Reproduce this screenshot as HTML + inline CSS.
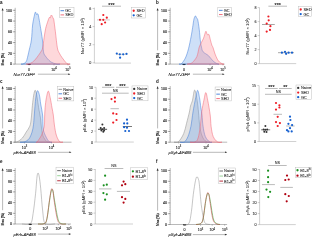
<!DOCTYPE html>
<html><head><meta charset="utf-8"><style>
html,body{margin:0;padding:0;background:#fff;width:312px;height:237px;overflow:hidden}
svg{display:block;will-change:transform}
text{font-family:"Liberation Sans", sans-serif}
</style></head><body>
<svg width="312" height="237" viewBox="0 0 312 237">
<text x="0.1" y="3.7" font-size="4.5" text-anchor="start" font-weight="bold" font-style="normal" fill="#111">a</text>
<line x1="15.2" y1="7.8" x2="15.2" y2="64.1" stroke="#333" stroke-width="0.35"/>
<line x1="12.8" y1="64.1" x2="15.2" y2="64.1" stroke="#333" stroke-width="0.4"/>
<text x="12.0" y="65.4" font-size="3.6" text-anchor="end" font-weight="normal" font-style="normal" fill="#1e1e1e" stroke="#1e1e1e" stroke-width="0.12">0</text>
<line x1="12.8" y1="53.34" x2="15.2" y2="53.34" stroke="#333" stroke-width="0.4"/>
<text x="12.0" y="54.64" font-size="3.6" text-anchor="end" font-weight="normal" font-style="normal" fill="#1e1e1e" stroke="#1e1e1e" stroke-width="0.12">20</text>
<line x1="12.8" y1="42.58" x2="15.2" y2="42.58" stroke="#333" stroke-width="0.4"/>
<text x="12.0" y="43.88" font-size="3.6" text-anchor="end" font-weight="normal" font-style="normal" fill="#1e1e1e" stroke="#1e1e1e" stroke-width="0.12">40</text>
<line x1="12.8" y1="31.82" x2="15.2" y2="31.82" stroke="#333" stroke-width="0.4"/>
<text x="12.0" y="33.12" font-size="3.6" text-anchor="end" font-weight="normal" font-style="normal" fill="#1e1e1e" stroke="#1e1e1e" stroke-width="0.12">60</text>
<line x1="12.8" y1="21.06" x2="15.2" y2="21.06" stroke="#333" stroke-width="0.4"/>
<text x="12.0" y="22.36" font-size="3.6" text-anchor="end" font-weight="normal" font-style="normal" fill="#1e1e1e" stroke="#1e1e1e" stroke-width="0.12">80</text>
<line x1="12.8" y1="10.3" x2="15.2" y2="10.3" stroke="#333" stroke-width="0.4"/>
<text x="12.0" y="11.6" font-size="3.6" text-anchor="end" font-weight="normal" font-style="normal" fill="#1e1e1e" stroke="#1e1e1e" stroke-width="0.12">100</text>
<line x1="14.4" y1="64.1" x2="15.2" y2="64.1" stroke="#333" stroke-width="0.25"/>
<line x1="14.4" y1="61.95" x2="15.2" y2="61.95" stroke="#333" stroke-width="0.25"/>
<line x1="14.4" y1="59.8" x2="15.2" y2="59.8" stroke="#333" stroke-width="0.25"/>
<line x1="14.4" y1="57.64" x2="15.2" y2="57.64" stroke="#333" stroke-width="0.25"/>
<line x1="14.4" y1="55.49" x2="15.2" y2="55.49" stroke="#333" stroke-width="0.25"/>
<line x1="14.4" y1="53.34" x2="15.2" y2="53.34" stroke="#333" stroke-width="0.25"/>
<line x1="14.4" y1="51.19" x2="15.2" y2="51.19" stroke="#333" stroke-width="0.25"/>
<line x1="14.4" y1="49.04" x2="15.2" y2="49.04" stroke="#333" stroke-width="0.25"/>
<line x1="14.4" y1="46.88" x2="15.2" y2="46.88" stroke="#333" stroke-width="0.25"/>
<line x1="14.4" y1="44.73" x2="15.2" y2="44.73" stroke="#333" stroke-width="0.25"/>
<line x1="14.4" y1="42.58" x2="15.2" y2="42.58" stroke="#333" stroke-width="0.25"/>
<line x1="14.4" y1="40.43" x2="15.2" y2="40.43" stroke="#333" stroke-width="0.25"/>
<line x1="14.4" y1="38.28" x2="15.2" y2="38.28" stroke="#333" stroke-width="0.25"/>
<line x1="14.4" y1="36.12" x2="15.2" y2="36.12" stroke="#333" stroke-width="0.25"/>
<line x1="14.4" y1="33.97" x2="15.2" y2="33.97" stroke="#333" stroke-width="0.25"/>
<line x1="14.4" y1="31.82" x2="15.2" y2="31.82" stroke="#333" stroke-width="0.25"/>
<line x1="14.4" y1="29.67" x2="15.2" y2="29.67" stroke="#333" stroke-width="0.25"/>
<line x1="14.4" y1="27.52" x2="15.2" y2="27.52" stroke="#333" stroke-width="0.25"/>
<line x1="14.4" y1="25.36" x2="15.2" y2="25.36" stroke="#333" stroke-width="0.25"/>
<line x1="14.4" y1="23.21" x2="15.2" y2="23.21" stroke="#333" stroke-width="0.25"/>
<line x1="14.4" y1="21.06" x2="15.2" y2="21.06" stroke="#333" stroke-width="0.25"/>
<line x1="14.4" y1="18.91" x2="15.2" y2="18.91" stroke="#333" stroke-width="0.25"/>
<line x1="14.4" y1="16.76" x2="15.2" y2="16.76" stroke="#333" stroke-width="0.25"/>
<line x1="14.4" y1="14.6" x2="15.2" y2="14.6" stroke="#333" stroke-width="0.25"/>
<line x1="14.4" y1="12.45" x2="15.2" y2="12.45" stroke="#333" stroke-width="0.25"/>
<line x1="14.4" y1="10.3" x2="15.2" y2="10.3" stroke="#333" stroke-width="0.25"/>
<line x1="15.2" y1="64.1" x2="70.4" y2="64.1" stroke="#333" stroke-width="0.35"/>
<rect x="27.6" y="63.9" width="3" height="1.1" fill="#111"/>
<line x1="29.1" y1="64.1" x2="29.1" y2="65.3" stroke="#333" stroke-width="0.35"/>
<text x="29.1" y="70.5" font-size="3.6" text-anchor="middle" font-weight="normal" font-style="normal" fill="#1e1e1e" stroke="#1e1e1e" stroke-width="0.1">0</text>
<line x1="54" y1="64.1" x2="54" y2="65.3" stroke="#333" stroke-width="0.35"/>
<text x="54" y="70.5" font-size="3.6" text-anchor="middle" font-weight="normal" font-style="normal" fill="#1e1e1e" stroke="#1e1e1e" stroke-width="0.1">10<tspan font-size="2.6" dy="-1.3">4</tspan></text>
<line x1="68" y1="64.1" x2="68" y2="65.3" stroke="#333" stroke-width="0.35"/>
<text x="68" y="70.5" font-size="3.6" text-anchor="middle" font-weight="normal" font-style="normal" fill="#1e1e1e" stroke="#1e1e1e" stroke-width="0.1">10<tspan font-size="2.6" dy="-1.3">5</tspan></text>
<text x="3.8" y="65.6" font-size="3.4" text-anchor="start" font-weight="normal" font-style="normal" fill="#1e1e1e" stroke="#1e1e1e" stroke-width="0.14" transform="rotate(-90 3.8 65.6)">Max (%)</text>
<line x1="2.6" y1="50.3" x2="2.6" y2="9.3" stroke="#333" stroke-width="0.35"/>
<path d="M1.6,10.5 L2.6,7.9 L3.6,10.5 Z" fill="#333"/>
<text x="13.4" y="75.8" font-size="4.2" text-anchor="start" font-weight="normal" font-style="italic" fill="#1e1e1e" stroke="#1e1e1e" stroke-width="0.08">Nur77-GFP</text>
<line x1="37.9" y1="74.2" x2="69.9" y2="74.2" stroke="#333" stroke-width="0.35"/>
<path d="M68.2,73.4 L70.4,74.2 L68.2,75 Z" fill="#333"/>
<path d="M21.00,64.10 C21.33,64.08 22.23,64.30 23.00,64.00 C23.77,63.70 24.93,63.07 25.60,62.30 C26.27,61.53 26.40,61.43 27.00,59.40 C27.60,57.37 28.47,53.33 29.20,50.10 C29.93,46.87 30.83,44.18 31.40,40.00 C31.97,35.82 32.08,29.17 32.60,25.00 C33.12,20.83 34.03,17.15 34.50,15.00 C34.97,12.85 35.05,12.18 35.40,12.10 C35.75,12.02 36.25,14.22 36.60,14.50 C36.95,14.78 37.18,13.55 37.50,13.80 C37.82,14.05 37.92,13.22 38.50,16.00 C39.08,18.78 40.30,26.17 41.00,30.50 C41.70,34.83 42.28,38.45 42.70,42.00 C43.12,45.55 43.08,49.50 43.50,51.80 C43.92,54.10 44.07,54.18 45.20,55.80 C46.33,57.42 48.45,60.13 50.30,61.50 C52.15,62.87 54.68,63.57 56.30,64.00 C57.92,64.43 59.38,64.08 60.00,64.10 Z" fill="rgb(92,152,232)" fill-opacity="0.3" stroke="#3d7ad8" stroke-width="0.5" stroke-linejoin="round"/>
<path d="M26.00,64.10 C26.42,64.08 27.45,64.30 28.50,64.00 C29.55,63.70 31.10,63.13 32.30,62.30 C33.50,61.47 34.32,60.68 35.70,59.00 C37.08,57.32 39.45,54.03 40.60,52.20 C41.75,50.37 42.02,50.40 42.60,48.00 C43.18,45.60 43.60,41.02 44.10,37.80 C44.60,34.58 44.97,31.48 45.60,28.70 C46.23,25.92 47.28,22.97 47.90,21.10 C48.52,19.23 48.92,18.02 49.30,17.50 C49.68,16.98 49.85,18.42 50.20,18.00 C50.55,17.58 50.90,14.92 51.40,15.00 C51.90,15.08 52.80,17.70 53.20,18.50 C53.60,19.30 53.43,17.58 53.80,19.80 C54.17,22.02 54.80,27.10 55.40,31.80 C56.00,36.50 56.73,44.43 57.40,48.00 C58.07,51.57 58.63,51.62 59.40,53.20 C60.17,54.78 60.73,55.77 62.00,57.50 C63.27,59.23 65.67,62.50 67.00,63.60 C68.33,64.70 69.50,64.02 70.00,64.10 Z" fill="rgb(252,125,135)" fill-opacity="0.3" stroke="#f06070" stroke-width="0.5" stroke-linejoin="round"/>
<rect x="59.3" y="7.6" width="14.7" height="10.0" fill="#fff" stroke="#b8b8b8" stroke-width="0.45"/>
<line x1="60.5" y1="10.7" x2="64.1" y2="10.7" stroke="#3d7ad8" stroke-width="0.9"/>
<text x="65.2" y="12.1" font-size="4.0" text-anchor="start" font-weight="normal" font-style="normal" fill="#1e1e1e" stroke="#1e1e1e" stroke-width="0.06">GC</text>
<line x1="60.5" y1="14.9" x2="64.1" y2="14.9" stroke="#f06070" stroke-width="0.9"/>
<text x="65.2" y="16.3" font-size="4.0" text-anchor="start" font-weight="normal" font-style="normal" fill="#1e1e1e" stroke="#1e1e1e" stroke-width="0.06">SED</text>
<line x1="94.4" y1="7.6" x2="94.4" y2="63.1" stroke="#999" stroke-width="0.45"/>
<line x1="94.4" y1="63.1" x2="131" y2="63.1" stroke="#999" stroke-width="0.45"/>
<line x1="92.6" y1="8.5" x2="94.4" y2="8.5" stroke="#777" stroke-width="0.35"/>
<text x="91.4" y="10.1" font-size="3.7" text-anchor="end" font-weight="normal" font-style="normal" fill="#1e1e1e" stroke="#1e1e1e" stroke-width="0.06">6</text>
<line x1="92.6" y1="26.6" x2="94.4" y2="26.6" stroke="#777" stroke-width="0.35"/>
<text x="91.4" y="28.2" font-size="3.7" text-anchor="end" font-weight="normal" font-style="normal" fill="#1e1e1e" stroke="#1e1e1e" stroke-width="0.06">4</text>
<line x1="92.6" y1="44.7" x2="94.4" y2="44.7" stroke="#777" stroke-width="0.35"/>
<text x="91.4" y="46.3" font-size="3.7" text-anchor="end" font-weight="normal" font-style="normal" fill="#1e1e1e" stroke="#1e1e1e" stroke-width="0.06">2</text>
<line x1="92.6" y1="62.8" x2="94.4" y2="62.8" stroke="#777" stroke-width="0.35"/>
<text x="91.4" y="64.4" font-size="3.7" text-anchor="end" font-weight="normal" font-style="normal" fill="#1e1e1e" stroke="#1e1e1e" stroke-width="0.06">0</text>
<text x="84.2" y="36.15" font-size="4.25" text-anchor="middle" font-weight="normal" font-style="normal" fill="#1e1e1e" stroke="#1e1e1e" stroke-width="0.02" transform="rotate(-90 84.2 36.15)">Nur77 (gMFI × 10<tspan font-size="2.7" dy="-1.4">3</tspan><tspan dy="1.4">)</tspan></text>
<line x1="102" y1="6.2" x2="121" y2="6.2" stroke="#777" stroke-width="0.5"/>
<text x="111.5" y="6.7" font-size="5.4" text-anchor="middle" font-weight="normal" font-style="normal" fill="#1e1e1e" stroke="#1e1e1e" stroke-width="0.15">***</text>
<line x1="97" y1="19.9" x2="109.9" y2="19.9" stroke="#c0c0c0" stroke-width="0.8"/>
<circle cx="103.3" cy="15" r="1.1" fill="#ee1c25"/>
<circle cx="106.8" cy="17.7" r="1.1" fill="#ee1c25"/>
<circle cx="100" cy="19.8" r="1.1" fill="#ee1c25"/>
<circle cx="103.3" cy="19.8" r="1.1" fill="#ee1c25"/>
<circle cx="105.1" cy="22.5" r="1.1" fill="#ee1c25"/>
<circle cx="101.7" cy="24.2" r="1.1" fill="#ee1c25"/>
<line x1="116" y1="54.3" x2="127.7" y2="54.3" stroke="#c0c0c0" stroke-width="0.8"/>
<circle cx="116.8" cy="53.5" r="1.1" fill="#1560d0"/>
<circle cx="119.8" cy="54.3" r="1.1" fill="#1560d0"/>
<circle cx="123.2" cy="54.3" r="1.1" fill="#1560d0"/>
<circle cx="126.5" cy="53.8" r="1.1" fill="#1560d0"/>
<circle cx="120.1" cy="57.7" r="1.1" fill="#1560d0"/>
<rect x="131.5" y="7.5" width="13.8" height="10.5" fill="#fff" stroke="#b8b8b8" stroke-width="0.45"/>
<circle cx="133.7" cy="10.75" r="1.15" fill="#ee1c25"/>
<text x="136.4" y="12.25" font-size="4.0" text-anchor="start" font-weight="normal" font-style="normal" fill="#1e1e1e" stroke="#1e1e1e" stroke-width="0.06">SED</text>
<circle cx="133.7" cy="15.35" r="1.15" fill="#1560d0"/>
<text x="136.4" y="16.85" font-size="4.0" text-anchor="start" font-weight="normal" font-style="normal" fill="#1e1e1e" stroke="#1e1e1e" stroke-width="0.06">GC</text>
<text x="155.9" y="3.7" font-size="4.5" text-anchor="start" font-weight="bold" font-style="normal" fill="#111">b</text>
<line x1="170.2" y1="7.8" x2="170.2" y2="64.1" stroke="#333" stroke-width="0.35"/>
<line x1="167.8" y1="64.1" x2="170.2" y2="64.1" stroke="#333" stroke-width="0.4"/>
<text x="167.0" y="65.4" font-size="3.6" text-anchor="end" font-weight="normal" font-style="normal" fill="#1e1e1e" stroke="#1e1e1e" stroke-width="0.12">0</text>
<line x1="167.8" y1="53.34" x2="170.2" y2="53.34" stroke="#333" stroke-width="0.4"/>
<text x="167.0" y="54.64" font-size="3.6" text-anchor="end" font-weight="normal" font-style="normal" fill="#1e1e1e" stroke="#1e1e1e" stroke-width="0.12">20</text>
<line x1="167.8" y1="42.58" x2="170.2" y2="42.58" stroke="#333" stroke-width="0.4"/>
<text x="167.0" y="43.88" font-size="3.6" text-anchor="end" font-weight="normal" font-style="normal" fill="#1e1e1e" stroke="#1e1e1e" stroke-width="0.12">40</text>
<line x1="167.8" y1="31.82" x2="170.2" y2="31.82" stroke="#333" stroke-width="0.4"/>
<text x="167.0" y="33.12" font-size="3.6" text-anchor="end" font-weight="normal" font-style="normal" fill="#1e1e1e" stroke="#1e1e1e" stroke-width="0.12">60</text>
<line x1="167.8" y1="21.06" x2="170.2" y2="21.06" stroke="#333" stroke-width="0.4"/>
<text x="167.0" y="22.36" font-size="3.6" text-anchor="end" font-weight="normal" font-style="normal" fill="#1e1e1e" stroke="#1e1e1e" stroke-width="0.12">80</text>
<line x1="167.8" y1="10.3" x2="170.2" y2="10.3" stroke="#333" stroke-width="0.4"/>
<text x="167.0" y="11.6" font-size="3.6" text-anchor="end" font-weight="normal" font-style="normal" fill="#1e1e1e" stroke="#1e1e1e" stroke-width="0.12">100</text>
<line x1="169.4" y1="64.1" x2="170.2" y2="64.1" stroke="#333" stroke-width="0.25"/>
<line x1="169.4" y1="61.95" x2="170.2" y2="61.95" stroke="#333" stroke-width="0.25"/>
<line x1="169.4" y1="59.8" x2="170.2" y2="59.8" stroke="#333" stroke-width="0.25"/>
<line x1="169.4" y1="57.64" x2="170.2" y2="57.64" stroke="#333" stroke-width="0.25"/>
<line x1="169.4" y1="55.49" x2="170.2" y2="55.49" stroke="#333" stroke-width="0.25"/>
<line x1="169.4" y1="53.34" x2="170.2" y2="53.34" stroke="#333" stroke-width="0.25"/>
<line x1="169.4" y1="51.19" x2="170.2" y2="51.19" stroke="#333" stroke-width="0.25"/>
<line x1="169.4" y1="49.04" x2="170.2" y2="49.04" stroke="#333" stroke-width="0.25"/>
<line x1="169.4" y1="46.88" x2="170.2" y2="46.88" stroke="#333" stroke-width="0.25"/>
<line x1="169.4" y1="44.73" x2="170.2" y2="44.73" stroke="#333" stroke-width="0.25"/>
<line x1="169.4" y1="42.58" x2="170.2" y2="42.58" stroke="#333" stroke-width="0.25"/>
<line x1="169.4" y1="40.43" x2="170.2" y2="40.43" stroke="#333" stroke-width="0.25"/>
<line x1="169.4" y1="38.28" x2="170.2" y2="38.28" stroke="#333" stroke-width="0.25"/>
<line x1="169.4" y1="36.12" x2="170.2" y2="36.12" stroke="#333" stroke-width="0.25"/>
<line x1="169.4" y1="33.97" x2="170.2" y2="33.97" stroke="#333" stroke-width="0.25"/>
<line x1="169.4" y1="31.82" x2="170.2" y2="31.82" stroke="#333" stroke-width="0.25"/>
<line x1="169.4" y1="29.67" x2="170.2" y2="29.67" stroke="#333" stroke-width="0.25"/>
<line x1="169.4" y1="27.52" x2="170.2" y2="27.52" stroke="#333" stroke-width="0.25"/>
<line x1="169.4" y1="25.36" x2="170.2" y2="25.36" stroke="#333" stroke-width="0.25"/>
<line x1="169.4" y1="23.21" x2="170.2" y2="23.21" stroke="#333" stroke-width="0.25"/>
<line x1="169.4" y1="21.06" x2="170.2" y2="21.06" stroke="#333" stroke-width="0.25"/>
<line x1="169.4" y1="18.91" x2="170.2" y2="18.91" stroke="#333" stroke-width="0.25"/>
<line x1="169.4" y1="16.76" x2="170.2" y2="16.76" stroke="#333" stroke-width="0.25"/>
<line x1="169.4" y1="14.6" x2="170.2" y2="14.6" stroke="#333" stroke-width="0.25"/>
<line x1="169.4" y1="12.45" x2="170.2" y2="12.45" stroke="#333" stroke-width="0.25"/>
<line x1="169.4" y1="10.3" x2="170.2" y2="10.3" stroke="#333" stroke-width="0.25"/>
<line x1="170.2" y1="64.1" x2="224.6" y2="64.1" stroke="#333" stroke-width="0.35"/>
<rect x="182.5" y="63.9" width="3" height="1.1" fill="#111"/>
<line x1="184" y1="64.1" x2="184" y2="65.3" stroke="#333" stroke-width="0.35"/>
<text x="184" y="70.5" font-size="3.6" text-anchor="middle" font-weight="normal" font-style="normal" fill="#1e1e1e" stroke="#1e1e1e" stroke-width="0.1">0</text>
<line x1="210" y1="64.1" x2="210" y2="65.3" stroke="#333" stroke-width="0.35"/>
<text x="210" y="70.5" font-size="3.6" text-anchor="middle" font-weight="normal" font-style="normal" fill="#1e1e1e" stroke="#1e1e1e" stroke-width="0.1">10<tspan font-size="2.6" dy="-1.3">4</tspan></text>
<line x1="223" y1="64.1" x2="223" y2="65.3" stroke="#333" stroke-width="0.35"/>
<text x="223" y="70.5" font-size="3.6" text-anchor="middle" font-weight="normal" font-style="normal" fill="#1e1e1e" stroke="#1e1e1e" stroke-width="0.1">10<tspan font-size="2.6" dy="-1.3">5</tspan></text>
<text x="158.8" y="65.6" font-size="3.4" text-anchor="start" font-weight="normal" font-style="normal" fill="#1e1e1e" stroke="#1e1e1e" stroke-width="0.14" transform="rotate(-90 158.8 65.6)">Max (%)</text>
<line x1="157.6" y1="50.3" x2="157.6" y2="9.3" stroke="#333" stroke-width="0.35"/>
<path d="M156.6,10.5 L157.6,7.9 L158.6,10.5 Z" fill="#333"/>
<text x="168.4" y="75.8" font-size="4.2" text-anchor="start" font-weight="normal" font-style="italic" fill="#1e1e1e" stroke="#1e1e1e" stroke-width="0.08">Nur77-GFP</text>
<line x1="192.9" y1="74.2" x2="224.1" y2="74.2" stroke="#333" stroke-width="0.35"/>
<path d="M222.4,73.4 L224.6,74.2 L222.4,75 Z" fill="#333"/>
<path d="M179.00,64.10 C179.42,64.02 180.43,64.62 181.50,63.60 C182.57,62.58 184.23,60.47 185.40,58.00 C186.57,55.53 187.55,52.37 188.50,48.80 C189.45,45.23 190.42,40.12 191.10,36.60 C191.78,33.08 192.12,30.65 192.60,27.70 C193.08,24.75 193.52,20.87 194.00,18.90 C194.48,16.93 195.08,16.05 195.50,15.90 C195.92,15.75 196.13,17.38 196.50,18.00 C196.87,18.62 197.25,17.73 197.70,19.60 C198.15,21.47 198.73,25.47 199.20,29.20 C199.67,32.93 200.12,39.00 200.50,42.00 C200.88,45.00 201.07,45.57 201.50,47.20 C201.93,48.83 201.93,50.38 203.10,51.80 C204.27,53.22 206.85,54.17 208.50,55.70 C210.15,57.23 211.60,59.68 213.00,61.00 C214.40,62.32 215.90,63.08 216.90,63.60 C217.90,64.12 218.65,64.02 219.00,64.10 Z" fill="rgb(92,152,232)" fill-opacity="0.3" stroke="#3d7ad8" stroke-width="0.5" stroke-linejoin="round"/>
<path d="M187.00,64.10 C187.37,64.05 188.32,64.05 189.20,63.80 C190.08,63.55 191.02,63.82 192.30,62.60 C193.58,61.38 195.75,59.07 196.90,56.50 C198.05,53.93 198.45,49.53 199.20,47.20 C199.95,44.87 200.67,44.02 201.40,42.50 C202.13,40.98 202.87,39.95 203.60,38.10 C204.33,36.25 205.23,32.08 205.80,31.40 C206.37,30.72 206.63,33.37 207.00,34.00 C207.37,34.63 207.67,35.12 208.00,35.20 C208.33,35.28 208.62,33.78 209.00,34.50 C209.38,35.22 209.83,37.75 210.30,39.50 C210.77,41.25 211.35,43.67 211.80,45.00 C212.25,46.33 212.40,45.85 213.00,47.50 C213.60,49.15 214.48,52.65 215.40,54.90 C216.32,57.15 217.35,59.52 218.50,61.00 C219.65,62.48 221.38,63.28 222.30,63.80 C223.22,64.32 223.72,64.05 224.00,64.10 Z" fill="rgb(252,125,135)" fill-opacity="0.3" stroke="#f06070" stroke-width="0.5" stroke-linejoin="round"/>
<rect x="217.8" y="7.6" width="13.9" height="9.3" fill="#fff" stroke="#b8b8b8" stroke-width="0.45"/>
<line x1="219.0" y1="10.35" x2="222.6" y2="10.35" stroke="#3d7ad8" stroke-width="0.9"/>
<text x="223.7" y="11.75" font-size="4.0" text-anchor="start" font-weight="normal" font-style="normal" fill="#1e1e1e" stroke="#1e1e1e" stroke-width="0.06">GC</text>
<line x1="219.0" y1="14.55" x2="222.6" y2="14.55" stroke="#f06070" stroke-width="0.9"/>
<text x="223.7" y="15.95" font-size="4.0" text-anchor="start" font-weight="normal" font-style="normal" fill="#1e1e1e" stroke="#1e1e1e" stroke-width="0.06">SED</text>
<line x1="259.5" y1="7.6" x2="259.5" y2="63.6" stroke="#999" stroke-width="0.45"/>
<line x1="259.5" y1="63.6" x2="296.2" y2="63.6" stroke="#999" stroke-width="0.45"/>
<line x1="257.7" y1="7.6" x2="259.5" y2="7.6" stroke="#777" stroke-width="0.35"/>
<text x="256.5" y="9.2" font-size="3.7" text-anchor="end" font-weight="normal" font-style="normal" fill="#1e1e1e" stroke="#1e1e1e" stroke-width="0.06">8</text>
<line x1="257.7" y1="21.6" x2="259.5" y2="21.6" stroke="#777" stroke-width="0.35"/>
<text x="256.5" y="23.2" font-size="3.7" text-anchor="end" font-weight="normal" font-style="normal" fill="#1e1e1e" stroke="#1e1e1e" stroke-width="0.06">6</text>
<line x1="257.7" y1="35.6" x2="259.5" y2="35.6" stroke="#777" stroke-width="0.35"/>
<text x="256.5" y="37.2" font-size="3.7" text-anchor="end" font-weight="normal" font-style="normal" fill="#1e1e1e" stroke="#1e1e1e" stroke-width="0.06">4</text>
<line x1="257.7" y1="49.6" x2="259.5" y2="49.6" stroke="#777" stroke-width="0.35"/>
<text x="256.5" y="51.2" font-size="3.7" text-anchor="end" font-weight="normal" font-style="normal" fill="#1e1e1e" stroke="#1e1e1e" stroke-width="0.06">2</text>
<line x1="257.7" y1="63.6" x2="259.5" y2="63.6" stroke="#777" stroke-width="0.35"/>
<text x="256.5" y="65.2" font-size="3.7" text-anchor="end" font-weight="normal" font-style="normal" fill="#1e1e1e" stroke="#1e1e1e" stroke-width="0.06">0</text>
<text x="249.3" y="36.4" font-size="4.25" text-anchor="middle" font-weight="normal" font-style="normal" fill="#1e1e1e" stroke="#1e1e1e" stroke-width="0.02" transform="rotate(-90 249.3 36.4)">Nur77 (gMFI × 10<tspan font-size="2.7" dy="-1.4">3</tspan><tspan dy="1.4">)</tspan></text>
<line x1="268.4" y1="6.2" x2="287" y2="6.2" stroke="#777" stroke-width="0.5"/>
<text x="277.7" y="6.7" font-size="5.4" text-anchor="middle" font-weight="normal" font-style="normal" fill="#1e1e1e" stroke="#1e1e1e" stroke-width="0.15">***</text>
<line x1="262" y1="24.5" x2="274.8" y2="24.5" stroke="#909090" stroke-width="0.8"/>
<circle cx="268.4" cy="16.5" r="1.1" fill="#ee1c25"/>
<circle cx="268.7" cy="20.3" r="1.1" fill="#ee1c25"/>
<circle cx="266.7" cy="23.6" r="1.1" fill="#ee1c25"/>
<circle cx="270.4" cy="26.2" r="1.1" fill="#ee1c25"/>
<circle cx="270" cy="29.9" r="1.1" fill="#ee1c25"/>
<circle cx="266.7" cy="31.6" r="1.1" fill="#ee1c25"/>
<line x1="278" y1="52.7" x2="294" y2="52.7" stroke="#909090" stroke-width="0.8"/>
<circle cx="281.9" cy="52.7" r="1.1" fill="#1560d0"/>
<circle cx="285" cy="51.8" r="1.1" fill="#1560d0"/>
<circle cx="286.1" cy="53.8" r="1.1" fill="#1560d0"/>
<circle cx="288.6" cy="52.7" r="1.1" fill="#1560d0"/>
<circle cx="292" cy="52.7" r="1.1" fill="#1560d0"/>
<rect x="298.5" y="6.5" width="13.2" height="10.0" fill="#fff" stroke="#b8b8b8" stroke-width="0.45"/>
<circle cx="300.7" cy="9.5" r="1.15" fill="#ee1c25"/>
<text x="303.4" y="11.0" font-size="4.0" text-anchor="start" font-weight="normal" font-style="normal" fill="#1e1e1e" stroke="#1e1e1e" stroke-width="0.06">SED</text>
<circle cx="300.7" cy="14.1" r="1.15" fill="#1560d0"/>
<text x="303.4" y="15.6" font-size="4.0" text-anchor="start" font-weight="normal" font-style="normal" fill="#1e1e1e" stroke="#1e1e1e" stroke-width="0.06">GC</text>
<text x="0.1" y="83.1" font-size="4.5" text-anchor="start" font-weight="bold" font-style="normal" fill="#111">c</text>
<line x1="15.2" y1="86.0" x2="15.2" y2="142.2" stroke="#333" stroke-width="0.35"/>
<line x1="12.8" y1="142.2" x2="15.2" y2="142.2" stroke="#333" stroke-width="0.4"/>
<text x="12.0" y="143.5" font-size="3.6" text-anchor="end" font-weight="normal" font-style="normal" fill="#1e1e1e" stroke="#1e1e1e" stroke-width="0.12">0</text>
<line x1="12.8" y1="131.46" x2="15.2" y2="131.46" stroke="#333" stroke-width="0.4"/>
<text x="12.0" y="132.76" font-size="3.6" text-anchor="end" font-weight="normal" font-style="normal" fill="#1e1e1e" stroke="#1e1e1e" stroke-width="0.12">20</text>
<line x1="12.8" y1="120.72" x2="15.2" y2="120.72" stroke="#333" stroke-width="0.4"/>
<text x="12.0" y="122.02" font-size="3.6" text-anchor="end" font-weight="normal" font-style="normal" fill="#1e1e1e" stroke="#1e1e1e" stroke-width="0.12">40</text>
<line x1="12.8" y1="109.98" x2="15.2" y2="109.98" stroke="#333" stroke-width="0.4"/>
<text x="12.0" y="111.28" font-size="3.6" text-anchor="end" font-weight="normal" font-style="normal" fill="#1e1e1e" stroke="#1e1e1e" stroke-width="0.12">60</text>
<line x1="12.8" y1="99.24" x2="15.2" y2="99.24" stroke="#333" stroke-width="0.4"/>
<text x="12.0" y="100.54" font-size="3.6" text-anchor="end" font-weight="normal" font-style="normal" fill="#1e1e1e" stroke="#1e1e1e" stroke-width="0.12">80</text>
<line x1="12.8" y1="88.5" x2="15.2" y2="88.5" stroke="#333" stroke-width="0.4"/>
<text x="12.0" y="89.8" font-size="3.6" text-anchor="end" font-weight="normal" font-style="normal" fill="#1e1e1e" stroke="#1e1e1e" stroke-width="0.12">100</text>
<line x1="14.4" y1="142.2" x2="15.2" y2="142.2" stroke="#333" stroke-width="0.25"/>
<line x1="14.4" y1="140.05" x2="15.2" y2="140.05" stroke="#333" stroke-width="0.25"/>
<line x1="14.4" y1="137.9" x2="15.2" y2="137.9" stroke="#333" stroke-width="0.25"/>
<line x1="14.4" y1="135.76" x2="15.2" y2="135.76" stroke="#333" stroke-width="0.25"/>
<line x1="14.4" y1="133.61" x2="15.2" y2="133.61" stroke="#333" stroke-width="0.25"/>
<line x1="14.4" y1="131.46" x2="15.2" y2="131.46" stroke="#333" stroke-width="0.25"/>
<line x1="14.4" y1="129.31" x2="15.2" y2="129.31" stroke="#333" stroke-width="0.25"/>
<line x1="14.4" y1="127.16" x2="15.2" y2="127.16" stroke="#333" stroke-width="0.25"/>
<line x1="14.4" y1="125.02" x2="15.2" y2="125.02" stroke="#333" stroke-width="0.25"/>
<line x1="14.4" y1="122.87" x2="15.2" y2="122.87" stroke="#333" stroke-width="0.25"/>
<line x1="14.4" y1="120.72" x2="15.2" y2="120.72" stroke="#333" stroke-width="0.25"/>
<line x1="14.4" y1="118.57" x2="15.2" y2="118.57" stroke="#333" stroke-width="0.25"/>
<line x1="14.4" y1="116.42" x2="15.2" y2="116.42" stroke="#333" stroke-width="0.25"/>
<line x1="14.4" y1="114.28" x2="15.2" y2="114.28" stroke="#333" stroke-width="0.25"/>
<line x1="14.4" y1="112.13" x2="15.2" y2="112.13" stroke="#333" stroke-width="0.25"/>
<line x1="14.4" y1="109.98" x2="15.2" y2="109.98" stroke="#333" stroke-width="0.25"/>
<line x1="14.4" y1="107.83" x2="15.2" y2="107.83" stroke="#333" stroke-width="0.25"/>
<line x1="14.4" y1="105.68" x2="15.2" y2="105.68" stroke="#333" stroke-width="0.25"/>
<line x1="14.4" y1="103.54" x2="15.2" y2="103.54" stroke="#333" stroke-width="0.25"/>
<line x1="14.4" y1="101.39" x2="15.2" y2="101.39" stroke="#333" stroke-width="0.25"/>
<line x1="14.4" y1="99.24" x2="15.2" y2="99.24" stroke="#333" stroke-width="0.25"/>
<line x1="14.4" y1="97.09" x2="15.2" y2="97.09" stroke="#333" stroke-width="0.25"/>
<line x1="14.4" y1="94.94" x2="15.2" y2="94.94" stroke="#333" stroke-width="0.25"/>
<line x1="14.4" y1="92.8" x2="15.2" y2="92.8" stroke="#333" stroke-width="0.25"/>
<line x1="14.4" y1="90.65" x2="15.2" y2="90.65" stroke="#333" stroke-width="0.25"/>
<line x1="14.4" y1="88.5" x2="15.2" y2="88.5" stroke="#333" stroke-width="0.25"/>
<line x1="15.2" y1="142.2" x2="71.5" y2="142.2" stroke="#333" stroke-width="0.35"/>
<line x1="24.5" y1="142.2" x2="24.5" y2="143.4" stroke="#333" stroke-width="0.35"/>
<text x="24.5" y="148.6" font-size="3.6" text-anchor="middle" font-weight="normal" font-style="normal" fill="#1e1e1e" stroke="#1e1e1e" stroke-width="0.1">10<tspan font-size="2.6" dy="-1.3">3</tspan></text>
<line x1="51.5" y1="142.2" x2="51.5" y2="143.4" stroke="#333" stroke-width="0.35"/>
<text x="51.5" y="148.6" font-size="3.6" text-anchor="middle" font-weight="normal" font-style="normal" fill="#1e1e1e" stroke="#1e1e1e" stroke-width="0.1">10<tspan font-size="2.6" dy="-1.3">4</tspan></text>
<text x="3.8" y="143.7" font-size="3.4" text-anchor="start" font-weight="normal" font-style="normal" fill="#1e1e1e" stroke="#1e1e1e" stroke-width="0.14" transform="rotate(-90 3.8 143.7)">Max (%)</text>
<line x1="2.6" y1="128.4" x2="2.6" y2="87.5" stroke="#333" stroke-width="0.35"/>
<path d="M1.6,88.7 L2.6,86.1 L3.6,88.7 Z" fill="#333"/>
<text x="13.4" y="153.9" font-size="4.2" text-anchor="start" font-weight="normal" font-style="italic" fill="#1e1e1e" stroke="#1e1e1e" stroke-width="0.08">pErk-AF488</text>
<line x1="37.9" y1="152.3" x2="71.0" y2="152.3" stroke="#333" stroke-width="0.35"/>
<path d="M69.3,151.5 L71.5,152.3 L69.3,153.1 Z" fill="#333"/>
<path d="M14.00,142.20 C14.53,142.13 15.80,142.50 17.20,141.80 C18.60,141.10 20.92,139.60 22.40,138.00 C23.88,136.40 24.87,134.17 26.10,132.20 C27.33,130.23 28.95,128.42 29.80,126.20 C30.65,123.98 30.77,122.38 31.20,118.90 C31.63,115.42 31.98,109.27 32.40,105.30 C32.82,101.33 33.27,97.60 33.70,95.10 C34.13,92.60 34.57,90.65 35.00,90.30 C35.43,89.95 35.88,91.38 36.30,93.00 C36.72,94.62 37.05,97.17 37.50,100.00 C37.95,102.83 38.50,107.00 39.00,110.00 C39.50,113.00 40.08,115.00 40.50,118.00 C40.92,121.00 41.08,125.00 41.50,128.00 C41.92,131.00 42.08,133.70 43.00,136.00 C43.92,138.30 45.83,140.77 47.00,141.80 C48.17,142.83 49.50,142.13 50.00,142.20 Z" fill="rgb(170,170,170)" fill-opacity="0.32" stroke="#8c8c8c" stroke-width="0.5" stroke-linejoin="round"/>
<path d="M20.00,142.20 C20.77,142.13 23.10,142.37 24.60,141.80 C26.10,141.23 27.77,140.40 29.00,138.80 C30.23,137.20 31.25,134.53 32.00,132.20 C32.75,129.87 33.12,127.67 33.50,124.80 C33.88,121.93 33.92,119.52 34.30,115.00 C34.68,110.48 35.27,101.75 35.80,97.70 C36.33,93.65 36.90,91.13 37.50,90.70 C38.10,90.27 38.87,92.88 39.40,95.10 C39.93,97.32 40.17,100.68 40.70,104.00 C41.23,107.32 42.20,111.05 42.60,115.00 C43.00,118.95 42.78,124.60 43.10,127.70 C43.42,130.80 43.58,131.35 44.50,133.60 C45.42,135.85 47.35,139.77 48.60,141.20 C49.85,142.63 51.43,142.03 52.00,142.20 Z" fill="rgb(92,152,232)" fill-opacity="0.3" stroke="#3d7ad8" stroke-width="0.5" stroke-linejoin="round"/>
<path d="M36.00,142.20 C36.20,142.13 36.27,143.00 37.20,141.80 C38.13,140.60 40.42,137.63 41.60,135.00 C42.78,132.37 43.80,128.83 44.30,126.00 C44.80,123.17 44.47,121.03 44.60,118.00 C44.73,114.97 44.80,111.18 45.10,107.80 C45.40,104.42 45.87,100.48 46.40,97.70 C46.93,94.92 47.67,91.10 48.30,91.10 C48.93,91.10 49.58,94.92 50.20,97.70 C50.82,100.48 51.48,104.92 52.00,107.80 C52.52,110.68 52.90,112.13 53.30,115.00 C53.70,117.87 53.90,121.65 54.40,125.00 C54.90,128.35 55.45,132.35 56.30,135.10 C57.15,137.85 58.38,140.32 59.50,141.50 C60.62,142.68 62.42,142.08 63.00,142.20 Z" fill="rgb(252,125,135)" fill-opacity="0.3" stroke="#f06070" stroke-width="0.5" stroke-linejoin="round"/>
<rect x="57.3" y="86.3" width="16.5" height="14.6" fill="#fff" stroke="#b8b8b8" stroke-width="0.45"/>
<line x1="58.5" y1="89.35" x2="62.1" y2="89.35" stroke="#8c8c8c" stroke-width="0.9"/>
<text x="63.2" y="90.75" font-size="4.0" text-anchor="start" font-weight="normal" font-style="normal" fill="#1e1e1e" stroke="#1e1e1e" stroke-width="0.06">Naive</text>
<line x1="58.5" y1="93.8" x2="62.1" y2="93.8" stroke="#3d7ad8" stroke-width="0.9"/>
<text x="63.2" y="95.2" font-size="4.0" text-anchor="start" font-weight="normal" font-style="normal" fill="#1e1e1e" stroke="#1e1e1e" stroke-width="0.06">GC</text>
<line x1="58.5" y1="98.25" x2="62.1" y2="98.25" stroke="#f06070" stroke-width="0.9"/>
<text x="63.2" y="99.65" font-size="4.0" text-anchor="start" font-weight="normal" font-style="normal" fill="#1e1e1e" stroke="#1e1e1e" stroke-width="0.06">SED</text>
<line x1="96.1" y1="87.3" x2="96.1" y2="142.05" stroke="#999" stroke-width="0.45"/>
<line x1="96.1" y1="142.05" x2="133.8" y2="142.05" stroke="#999" stroke-width="0.45"/>
<line x1="94.3" y1="87.3" x2="96.1" y2="87.3" stroke="#777" stroke-width="0.35"/>
<text x="93.1" y="88.9" font-size="3.7" text-anchor="end" font-weight="normal" font-style="normal" fill="#1e1e1e" stroke="#1e1e1e" stroke-width="0.06">10</text>
<line x1="94.3" y1="98.25" x2="96.1" y2="98.25" stroke="#777" stroke-width="0.35"/>
<text x="93.1" y="99.85" font-size="3.7" text-anchor="end" font-weight="normal" font-style="normal" fill="#1e1e1e" stroke="#1e1e1e" stroke-width="0.06">8</text>
<line x1="94.3" y1="109.2" x2="96.1" y2="109.2" stroke="#777" stroke-width="0.35"/>
<text x="93.1" y="110.8" font-size="3.7" text-anchor="end" font-weight="normal" font-style="normal" fill="#1e1e1e" stroke="#1e1e1e" stroke-width="0.06">6</text>
<line x1="94.3" y1="120.15" x2="96.1" y2="120.15" stroke="#777" stroke-width="0.35"/>
<text x="93.1" y="121.75" font-size="3.7" text-anchor="end" font-weight="normal" font-style="normal" fill="#1e1e1e" stroke="#1e1e1e" stroke-width="0.06">4</text>
<line x1="94.3" y1="131.1" x2="96.1" y2="131.1" stroke="#777" stroke-width="0.35"/>
<text x="93.1" y="132.7" font-size="3.7" text-anchor="end" font-weight="normal" font-style="normal" fill="#1e1e1e" stroke="#1e1e1e" stroke-width="0.06">2</text>
<line x1="94.3" y1="142.05" x2="96.1" y2="142.05" stroke="#777" stroke-width="0.35"/>
<text x="93.1" y="143.65" font-size="3.7" text-anchor="end" font-weight="normal" font-style="normal" fill="#1e1e1e" stroke="#1e1e1e" stroke-width="0.06">0</text>
<text x="85.9" y="115.48" font-size="4.25" text-anchor="middle" font-weight="normal" font-style="normal" fill="#1e1e1e" stroke="#1e1e1e" stroke-width="0.02" transform="rotate(-90 85.9 115.48)">pErk (gMFI × 10<tspan font-size="2.7" dy="-1.4">3</tspan><tspan dy="1.4">)</tspan></text>
<line x1="102" y1="87.3" x2="114.3" y2="87.3" stroke="#777" stroke-width="0.5"/>
<text x="108.15" y="87.8" font-size="5.4" text-anchor="middle" font-weight="normal" font-style="normal" fill="#1e1e1e" stroke="#1e1e1e" stroke-width="0.15">***</text>
<line x1="116" y1="87.3" x2="128.7" y2="87.3" stroke="#777" stroke-width="0.5"/>
<text x="122.35" y="87.8" font-size="5.4" text-anchor="middle" font-weight="normal" font-style="normal" fill="#1e1e1e" stroke="#1e1e1e" stroke-width="0.15">***</text>
<line x1="102" y1="93.2" x2="128.7" y2="93.2" stroke="#aaa" stroke-width="0.8"/>
<text x="115.35" y="91.6" font-size="3.8" text-anchor="middle" font-weight="normal" font-style="normal" fill="#1e1e1e" stroke="#1e1e1e" stroke-width="0.06">NS</text>
<line x1="98" y1="129.3" x2="107.1" y2="129.3" stroke="#222" stroke-width="0.8"/>
<circle cx="102.4" cy="124.6" r="1.0" fill="#333"/>
<circle cx="100.7" cy="128" r="1.0" fill="#333"/>
<circle cx="104.1" cy="128" r="1.0" fill="#333"/>
<circle cx="101.4" cy="130.5" r="1.0" fill="#333"/>
<circle cx="103.3" cy="131.8" r="1.0" fill="#333"/>
<circle cx="104.1" cy="130.6" r="1.0" fill="#333"/>
<circle cx="102.3" cy="129.3" r="1.0" fill="#333"/>
<line x1="110.5" y1="108.7" x2="118.9" y2="108.7" stroke="#aaa" stroke-width="0.8"/>
<circle cx="111.5" cy="99.1" r="1.1" fill="#ee1c25"/>
<circle cx="114.9" cy="97.7" r="1.1" fill="#ee1c25"/>
<circle cx="114.9" cy="101.6" r="1.1" fill="#ee1c25"/>
<circle cx="113.2" cy="113.4" r="1.1" fill="#ee1c25"/>
<circle cx="116.5" cy="114" r="1.1" fill="#ee1c25"/>
<circle cx="113.2" cy="122.6" r="1.1" fill="#ee1c25"/>
<circle cx="116.5" cy="120" r="1.1" fill="#ee1c25"/>
<line x1="122.8" y1="126.5" x2="132" y2="126.5" stroke="#555" stroke-width="0.8"/>
<circle cx="127" cy="119.7" r="1.1" fill="#1560d0"/>
<circle cx="124.1" cy="123.4" r="1.1" fill="#1560d0"/>
<circle cx="127.3" cy="123.4" r="1.1" fill="#1560d0"/>
<circle cx="124.1" cy="127.2" r="1.1" fill="#1560d0"/>
<circle cx="127" cy="127.7" r="1.1" fill="#1560d0"/>
<circle cx="125.3" cy="131" r="1.1" fill="#1560d0"/>
<circle cx="129" cy="131" r="1.1" fill="#1560d0"/>
<rect x="132" y="85.9" width="16.0" height="14.9" fill="#fff" stroke="#b8b8b8" stroke-width="0.45"/>
<circle cx="134.2" cy="88.9" r="1.15" fill="#333"/>
<text x="136.9" y="90.4" font-size="4.0" text-anchor="start" font-weight="normal" font-style="normal" fill="#1e1e1e" stroke="#1e1e1e" stroke-width="0.06">Naive</text>
<circle cx="134.2" cy="93.5" r="1.15" fill="#ee1c25"/>
<text x="136.9" y="95.0" font-size="4.0" text-anchor="start" font-weight="normal" font-style="normal" fill="#1e1e1e" stroke="#1e1e1e" stroke-width="0.06">SED</text>
<circle cx="134.2" cy="98.1" r="1.15" fill="#1560d0"/>
<text x="136.9" y="99.6" font-size="4.0" text-anchor="start" font-weight="normal" font-style="normal" fill="#1e1e1e" stroke="#1e1e1e" stroke-width="0.06">GC</text>
<text x="155.9" y="83.1" font-size="4.5" text-anchor="start" font-weight="bold" font-style="normal" fill="#111">d</text>
<line x1="170.2" y1="86.0" x2="170.2" y2="142.2" stroke="#333" stroke-width="0.35"/>
<line x1="167.8" y1="142.2" x2="170.2" y2="142.2" stroke="#333" stroke-width="0.4"/>
<text x="167.0" y="143.5" font-size="3.6" text-anchor="end" font-weight="normal" font-style="normal" fill="#1e1e1e" stroke="#1e1e1e" stroke-width="0.12">0</text>
<line x1="167.8" y1="131.46" x2="170.2" y2="131.46" stroke="#333" stroke-width="0.4"/>
<text x="167.0" y="132.76" font-size="3.6" text-anchor="end" font-weight="normal" font-style="normal" fill="#1e1e1e" stroke="#1e1e1e" stroke-width="0.12">20</text>
<line x1="167.8" y1="120.72" x2="170.2" y2="120.72" stroke="#333" stroke-width="0.4"/>
<text x="167.0" y="122.02" font-size="3.6" text-anchor="end" font-weight="normal" font-style="normal" fill="#1e1e1e" stroke="#1e1e1e" stroke-width="0.12">40</text>
<line x1="167.8" y1="109.98" x2="170.2" y2="109.98" stroke="#333" stroke-width="0.4"/>
<text x="167.0" y="111.28" font-size="3.6" text-anchor="end" font-weight="normal" font-style="normal" fill="#1e1e1e" stroke="#1e1e1e" stroke-width="0.12">60</text>
<line x1="167.8" y1="99.24" x2="170.2" y2="99.24" stroke="#333" stroke-width="0.4"/>
<text x="167.0" y="100.54" font-size="3.6" text-anchor="end" font-weight="normal" font-style="normal" fill="#1e1e1e" stroke="#1e1e1e" stroke-width="0.12">80</text>
<line x1="167.8" y1="88.5" x2="170.2" y2="88.5" stroke="#333" stroke-width="0.4"/>
<text x="167.0" y="89.8" font-size="3.6" text-anchor="end" font-weight="normal" font-style="normal" fill="#1e1e1e" stroke="#1e1e1e" stroke-width="0.12">100</text>
<line x1="169.4" y1="142.2" x2="170.2" y2="142.2" stroke="#333" stroke-width="0.25"/>
<line x1="169.4" y1="140.05" x2="170.2" y2="140.05" stroke="#333" stroke-width="0.25"/>
<line x1="169.4" y1="137.9" x2="170.2" y2="137.9" stroke="#333" stroke-width="0.25"/>
<line x1="169.4" y1="135.76" x2="170.2" y2="135.76" stroke="#333" stroke-width="0.25"/>
<line x1="169.4" y1="133.61" x2="170.2" y2="133.61" stroke="#333" stroke-width="0.25"/>
<line x1="169.4" y1="131.46" x2="170.2" y2="131.46" stroke="#333" stroke-width="0.25"/>
<line x1="169.4" y1="129.31" x2="170.2" y2="129.31" stroke="#333" stroke-width="0.25"/>
<line x1="169.4" y1="127.16" x2="170.2" y2="127.16" stroke="#333" stroke-width="0.25"/>
<line x1="169.4" y1="125.02" x2="170.2" y2="125.02" stroke="#333" stroke-width="0.25"/>
<line x1="169.4" y1="122.87" x2="170.2" y2="122.87" stroke="#333" stroke-width="0.25"/>
<line x1="169.4" y1="120.72" x2="170.2" y2="120.72" stroke="#333" stroke-width="0.25"/>
<line x1="169.4" y1="118.57" x2="170.2" y2="118.57" stroke="#333" stroke-width="0.25"/>
<line x1="169.4" y1="116.42" x2="170.2" y2="116.42" stroke="#333" stroke-width="0.25"/>
<line x1="169.4" y1="114.28" x2="170.2" y2="114.28" stroke="#333" stroke-width="0.25"/>
<line x1="169.4" y1="112.13" x2="170.2" y2="112.13" stroke="#333" stroke-width="0.25"/>
<line x1="169.4" y1="109.98" x2="170.2" y2="109.98" stroke="#333" stroke-width="0.25"/>
<line x1="169.4" y1="107.83" x2="170.2" y2="107.83" stroke="#333" stroke-width="0.25"/>
<line x1="169.4" y1="105.68" x2="170.2" y2="105.68" stroke="#333" stroke-width="0.25"/>
<line x1="169.4" y1="103.54" x2="170.2" y2="103.54" stroke="#333" stroke-width="0.25"/>
<line x1="169.4" y1="101.39" x2="170.2" y2="101.39" stroke="#333" stroke-width="0.25"/>
<line x1="169.4" y1="99.24" x2="170.2" y2="99.24" stroke="#333" stroke-width="0.25"/>
<line x1="169.4" y1="97.09" x2="170.2" y2="97.09" stroke="#333" stroke-width="0.25"/>
<line x1="169.4" y1="94.94" x2="170.2" y2="94.94" stroke="#333" stroke-width="0.25"/>
<line x1="169.4" y1="92.8" x2="170.2" y2="92.8" stroke="#333" stroke-width="0.25"/>
<line x1="169.4" y1="90.65" x2="170.2" y2="90.65" stroke="#333" stroke-width="0.25"/>
<line x1="169.4" y1="88.5" x2="170.2" y2="88.5" stroke="#333" stroke-width="0.25"/>
<line x1="170.2" y1="142.2" x2="227.2" y2="142.2" stroke="#333" stroke-width="0.35"/>
<line x1="178.6" y1="142.2" x2="178.6" y2="143.4" stroke="#333" stroke-width="0.35"/>
<text x="178.6" y="148.6" font-size="3.6" text-anchor="middle" font-weight="normal" font-style="normal" fill="#1e1e1e" stroke="#1e1e1e" stroke-width="0.1">10<tspan font-size="2.6" dy="-1.3">3</tspan></text>
<line x1="206" y1="142.2" x2="206" y2="143.4" stroke="#333" stroke-width="0.35"/>
<text x="206" y="148.6" font-size="3.6" text-anchor="middle" font-weight="normal" font-style="normal" fill="#1e1e1e" stroke="#1e1e1e" stroke-width="0.1">10<tspan font-size="2.6" dy="-1.3">4</tspan></text>
<text x="158.8" y="143.7" font-size="3.4" text-anchor="start" font-weight="normal" font-style="normal" fill="#1e1e1e" stroke="#1e1e1e" stroke-width="0.14" transform="rotate(-90 158.8 143.7)">Max (%)</text>
<line x1="157.6" y1="128.4" x2="157.6" y2="87.5" stroke="#333" stroke-width="0.35"/>
<path d="M156.6,88.7 L157.6,86.1 L158.6,88.7 Z" fill="#333"/>
<text x="168.4" y="153.9" font-size="4.2" text-anchor="start" font-weight="normal" font-style="italic" fill="#1e1e1e" stroke="#1e1e1e" stroke-width="0.08">pSyk-AF488</text>
<line x1="192.9" y1="152.3" x2="226.7" y2="152.3" stroke="#333" stroke-width="0.35"/>
<path d="M225.0,151.5 L227.2,152.3 L225.0,153.1 Z" fill="#333"/>
<path d="M174.00,142.20 C174.77,142.10 176.98,143.03 178.60,141.60 C180.22,140.17 182.38,136.62 183.70,133.60 C185.02,130.58 185.55,127.10 186.50,123.50 C187.45,119.90 188.73,114.92 189.40,112.00 C190.07,109.08 189.98,107.97 190.50,106.00 C191.02,104.03 191.85,102.82 192.50,100.20 C193.15,97.58 193.82,91.33 194.40,90.30 C194.98,89.27 195.48,91.88 196.00,94.00 C196.52,96.12 197.08,100.00 197.50,103.00 C197.92,106.00 198.08,107.83 198.50,112.00 C198.92,116.17 199.25,123.67 200.00,128.00 C200.75,132.33 201.83,135.67 203.00,138.00 C204.17,140.33 205.83,141.30 207.00,142.00 C208.17,142.70 209.50,142.17 210.00,142.20 Z" fill="rgb(170,170,170)" fill-opacity="0.32" stroke="#8c8c8c" stroke-width="0.5" stroke-linejoin="round"/>
<path d="M180.00,142.20 C180.73,142.17 183.07,142.95 184.40,142.00 C185.73,141.05 186.92,139.10 188.00,136.50 C189.08,133.90 190.07,130.48 190.90,126.40 C191.73,122.32 192.20,116.78 193.00,112.00 C193.80,107.22 194.93,101.32 195.70,97.70 C196.47,94.08 196.97,90.30 197.60,90.30 C198.23,90.30 198.95,94.75 199.50,97.70 C200.05,100.65 200.48,105.12 200.90,108.00 C201.32,110.88 201.65,112.00 202.00,115.00 C202.35,118.00 202.45,122.42 203.00,126.00 C203.55,129.58 204.20,133.83 205.30,136.50 C206.40,139.17 208.48,141.05 209.60,142.00 C210.72,142.95 211.60,142.17 212.00,142.20 Z" fill="rgb(92,152,232)" fill-opacity="0.3" stroke="#3d7ad8" stroke-width="0.5" stroke-linejoin="round"/>
<path d="M190.00,142.20 C190.87,142.17 193.85,142.70 195.20,142.00 C196.55,141.30 197.25,140.60 198.10,138.00 C198.95,135.40 199.70,130.73 200.30,126.40 C200.90,122.07 201.10,116.37 201.70,112.00 C202.30,107.63 203.22,103.43 203.90,100.20 C204.58,96.97 205.17,92.60 205.80,92.60 C206.43,92.60 206.97,96.47 207.70,100.20 C208.43,103.93 209.63,110.63 210.20,115.00 C210.77,119.37 210.60,122.82 211.10,126.40 C211.60,129.98 212.12,133.90 213.20,136.50 C214.28,139.10 216.13,141.05 217.60,142.00 C219.07,142.95 221.27,142.17 222.00,142.20 Z" fill="rgb(252,125,135)" fill-opacity="0.3" stroke="#f06070" stroke-width="0.5" stroke-linejoin="round"/>
<rect x="215.1" y="87.0" width="16.4" height="13.9" fill="#fff" stroke="#b8b8b8" stroke-width="0.45"/>
<line x1="216.3" y1="89.7" x2="219.9" y2="89.7" stroke="#8c8c8c" stroke-width="0.9"/>
<text x="221.0" y="91.1" font-size="4.0" text-anchor="start" font-weight="normal" font-style="normal" fill="#1e1e1e" stroke="#1e1e1e" stroke-width="0.06">Naive</text>
<line x1="216.3" y1="94.15" x2="219.9" y2="94.15" stroke="#3d7ad8" stroke-width="0.9"/>
<text x="221.0" y="95.55" font-size="4.0" text-anchor="start" font-weight="normal" font-style="normal" fill="#1e1e1e" stroke="#1e1e1e" stroke-width="0.06">GC</text>
<line x1="216.3" y1="98.6" x2="219.9" y2="98.6" stroke="#f06070" stroke-width="0.9"/>
<text x="221.0" y="100" font-size="4.0" text-anchor="start" font-weight="normal" font-style="normal" fill="#1e1e1e" stroke="#1e1e1e" stroke-width="0.06">SED</text>
<line x1="259.1" y1="85.6" x2="259.1" y2="141.5" stroke="#999" stroke-width="0.45"/>
<line x1="259.1" y1="141.5" x2="296.3" y2="141.5" stroke="#999" stroke-width="0.45"/>
<line x1="257.3" y1="85.6" x2="259.1" y2="85.6" stroke="#777" stroke-width="0.35"/>
<text x="256.1" y="87.2" font-size="3.7" text-anchor="end" font-weight="normal" font-style="normal" fill="#1e1e1e" stroke="#1e1e1e" stroke-width="0.06">15</text>
<line x1="257.3" y1="104.23" x2="259.1" y2="104.23" stroke="#777" stroke-width="0.35"/>
<text x="256.1" y="105.83" font-size="3.7" text-anchor="end" font-weight="normal" font-style="normal" fill="#1e1e1e" stroke="#1e1e1e" stroke-width="0.06">10</text>
<line x1="257.3" y1="122.87" x2="259.1" y2="122.87" stroke="#777" stroke-width="0.35"/>
<text x="256.1" y="124.47" font-size="3.7" text-anchor="end" font-weight="normal" font-style="normal" fill="#1e1e1e" stroke="#1e1e1e" stroke-width="0.06">5</text>
<line x1="257.3" y1="141.5" x2="259.1" y2="141.5" stroke="#777" stroke-width="0.35"/>
<text x="256.1" y="143.1" font-size="3.7" text-anchor="end" font-weight="normal" font-style="normal" fill="#1e1e1e" stroke="#1e1e1e" stroke-width="0.06">0</text>
<text x="248.9" y="114.35" font-size="4.25" text-anchor="middle" font-weight="normal" font-style="normal" fill="#1e1e1e" stroke="#1e1e1e" stroke-width="0.02" transform="rotate(-90 248.9 114.35)">pSyk (gMFI × 10<tspan font-size="2.7" dy="-1.4">3</tspan><tspan dy="1.4">)</tspan></text>
<line x1="265" y1="88.5" x2="277.7" y2="88.5" stroke="#777" stroke-width="0.5"/>
<text x="271.35" y="89.0" font-size="5.4" text-anchor="middle" font-weight="normal" font-style="normal" fill="#1e1e1e" stroke="#1e1e1e" stroke-width="0.15">***</text>
<line x1="279" y1="88.5" x2="291.7" y2="88.5" stroke="#777" stroke-width="0.5"/>
<text x="285.35" y="89.0" font-size="5.4" text-anchor="middle" font-weight="normal" font-style="normal" fill="#1e1e1e" stroke="#1e1e1e" stroke-width="0.15">**</text>
<line x1="265" y1="94.3" x2="291.7" y2="94.3" stroke="#aaa" stroke-width="0.8"/>
<text x="278.35" y="92.6" font-size="3.8" text-anchor="middle" font-weight="normal" font-style="normal" fill="#1e1e1e" stroke="#1e1e1e" stroke-width="0.06">NS</text>
<line x1="261" y1="129.8" x2="270.2" y2="129.8" stroke="#666" stroke-width="0.8"/>
<circle cx="265.4" cy="125.9" r="1.0" fill="#333"/>
<circle cx="263.6" cy="129.6" r="1.0" fill="#333"/>
<circle cx="267.2" cy="129.6" r="1.0" fill="#333"/>
<circle cx="265.4" cy="129.8" r="1.0" fill="#333"/>
<circle cx="264.3" cy="131.8" r="1.0" fill="#333"/>
<circle cx="266.5" cy="132" r="1.0" fill="#333"/>
<line x1="273.5" y1="114.3" x2="282" y2="114.3" stroke="#aaa" stroke-width="0.8"/>
<circle cx="276" cy="103" r="1.1" fill="#ee1c25"/>
<circle cx="279.4" cy="105.3" r="1.1" fill="#ee1c25"/>
<circle cx="279.4" cy="107.5" r="1.1" fill="#ee1c25"/>
<circle cx="276" cy="109.6" r="1.1" fill="#ee1c25"/>
<circle cx="277.7" cy="116.8" r="1.1" fill="#ee1c25"/>
<circle cx="276" cy="122.1" r="1.1" fill="#ee1c25"/>
<circle cx="279.9" cy="123.1" r="1.1" fill="#ee1c25"/>
<circle cx="277.7" cy="126" r="1.1" fill="#ee1c25"/>
<line x1="286.2" y1="126" x2="294.6" y2="126" stroke="#aaa" stroke-width="0.8"/>
<circle cx="290" cy="116.7" r="1.1" fill="#1560d0"/>
<circle cx="290.4" cy="120" r="1.1" fill="#1560d0"/>
<circle cx="288.4" cy="123.8" r="1.1" fill="#1560d0"/>
<circle cx="292.1" cy="125.1" r="1.1" fill="#1560d0"/>
<circle cx="290" cy="128.2" r="1.1" fill="#1560d0"/>
<circle cx="287" cy="130.2" r="1.1" fill="#1560d0"/>
<circle cx="288.4" cy="131.4" r="1.1" fill="#1560d0"/>
<circle cx="291.7" cy="131.4" r="1.1" fill="#1560d0"/>
<rect x="296" y="85" width="15.7" height="14.5" fill="#fff" stroke="#b8b8b8" stroke-width="0.45"/>
<circle cx="298.2" cy="87.95" r="1.15" fill="#333"/>
<text x="300.9" y="89.45" font-size="4.0" text-anchor="start" font-weight="normal" font-style="normal" fill="#1e1e1e" stroke="#1e1e1e" stroke-width="0.06">Naive</text>
<circle cx="298.2" cy="92.55" r="1.15" fill="#ee1c25"/>
<text x="300.9" y="94.05" font-size="4.0" text-anchor="start" font-weight="normal" font-style="normal" fill="#1e1e1e" stroke="#1e1e1e" stroke-width="0.06">SED</text>
<circle cx="298.2" cy="97.15" r="1.15" fill="#1560d0"/>
<text x="300.9" y="98.65" font-size="4.0" text-anchor="start" font-weight="normal" font-style="normal" fill="#1e1e1e" stroke="#1e1e1e" stroke-width="0.06">GC</text>
<text x="0.1" y="163.1" font-size="4.5" text-anchor="start" font-weight="bold" font-style="normal" fill="#111">e</text>
<line x1="15.2" y1="168.0" x2="15.2" y2="224" stroke="#333" stroke-width="0.35"/>
<line x1="12.8" y1="224.0" x2="15.2" y2="224.0" stroke="#333" stroke-width="0.4"/>
<text x="12.0" y="225.3" font-size="3.6" text-anchor="end" font-weight="normal" font-style="normal" fill="#1e1e1e" stroke="#1e1e1e" stroke-width="0.12">0</text>
<line x1="12.8" y1="213.3" x2="15.2" y2="213.3" stroke="#333" stroke-width="0.4"/>
<text x="12.0" y="214.6" font-size="3.6" text-anchor="end" font-weight="normal" font-style="normal" fill="#1e1e1e" stroke="#1e1e1e" stroke-width="0.12">20</text>
<line x1="12.8" y1="202.6" x2="15.2" y2="202.6" stroke="#333" stroke-width="0.4"/>
<text x="12.0" y="203.9" font-size="3.6" text-anchor="end" font-weight="normal" font-style="normal" fill="#1e1e1e" stroke="#1e1e1e" stroke-width="0.12">40</text>
<line x1="12.8" y1="191.9" x2="15.2" y2="191.9" stroke="#333" stroke-width="0.4"/>
<text x="12.0" y="193.2" font-size="3.6" text-anchor="end" font-weight="normal" font-style="normal" fill="#1e1e1e" stroke="#1e1e1e" stroke-width="0.12">60</text>
<line x1="12.8" y1="181.2" x2="15.2" y2="181.2" stroke="#333" stroke-width="0.4"/>
<text x="12.0" y="182.5" font-size="3.6" text-anchor="end" font-weight="normal" font-style="normal" fill="#1e1e1e" stroke="#1e1e1e" stroke-width="0.12">80</text>
<line x1="12.8" y1="170.5" x2="15.2" y2="170.5" stroke="#333" stroke-width="0.4"/>
<text x="12.0" y="171.8" font-size="3.6" text-anchor="end" font-weight="normal" font-style="normal" fill="#1e1e1e" stroke="#1e1e1e" stroke-width="0.12">100</text>
<line x1="14.4" y1="224.0" x2="15.2" y2="224.0" stroke="#333" stroke-width="0.25"/>
<line x1="14.4" y1="221.86" x2="15.2" y2="221.86" stroke="#333" stroke-width="0.25"/>
<line x1="14.4" y1="219.72" x2="15.2" y2="219.72" stroke="#333" stroke-width="0.25"/>
<line x1="14.4" y1="217.58" x2="15.2" y2="217.58" stroke="#333" stroke-width="0.25"/>
<line x1="14.4" y1="215.44" x2="15.2" y2="215.44" stroke="#333" stroke-width="0.25"/>
<line x1="14.4" y1="213.3" x2="15.2" y2="213.3" stroke="#333" stroke-width="0.25"/>
<line x1="14.4" y1="211.16" x2="15.2" y2="211.16" stroke="#333" stroke-width="0.25"/>
<line x1="14.4" y1="209.02" x2="15.2" y2="209.02" stroke="#333" stroke-width="0.25"/>
<line x1="14.4" y1="206.88" x2="15.2" y2="206.88" stroke="#333" stroke-width="0.25"/>
<line x1="14.4" y1="204.74" x2="15.2" y2="204.74" stroke="#333" stroke-width="0.25"/>
<line x1="14.4" y1="202.6" x2="15.2" y2="202.6" stroke="#333" stroke-width="0.25"/>
<line x1="14.4" y1="200.46" x2="15.2" y2="200.46" stroke="#333" stroke-width="0.25"/>
<line x1="14.4" y1="198.32" x2="15.2" y2="198.32" stroke="#333" stroke-width="0.25"/>
<line x1="14.4" y1="196.18" x2="15.2" y2="196.18" stroke="#333" stroke-width="0.25"/>
<line x1="14.4" y1="194.04" x2="15.2" y2="194.04" stroke="#333" stroke-width="0.25"/>
<line x1="14.4" y1="191.9" x2="15.2" y2="191.9" stroke="#333" stroke-width="0.25"/>
<line x1="14.4" y1="189.76" x2="15.2" y2="189.76" stroke="#333" stroke-width="0.25"/>
<line x1="14.4" y1="187.62" x2="15.2" y2="187.62" stroke="#333" stroke-width="0.25"/>
<line x1="14.4" y1="185.48" x2="15.2" y2="185.48" stroke="#333" stroke-width="0.25"/>
<line x1="14.4" y1="183.34" x2="15.2" y2="183.34" stroke="#333" stroke-width="0.25"/>
<line x1="14.4" y1="181.2" x2="15.2" y2="181.2" stroke="#333" stroke-width="0.25"/>
<line x1="14.4" y1="179.06" x2="15.2" y2="179.06" stroke="#333" stroke-width="0.25"/>
<line x1="14.4" y1="176.92" x2="15.2" y2="176.92" stroke="#333" stroke-width="0.25"/>
<line x1="14.4" y1="174.78" x2="15.2" y2="174.78" stroke="#333" stroke-width="0.25"/>
<line x1="14.4" y1="172.64" x2="15.2" y2="172.64" stroke="#333" stroke-width="0.25"/>
<line x1="14.4" y1="170.5" x2="15.2" y2="170.5" stroke="#333" stroke-width="0.25"/>
<line x1="15.2" y1="224" x2="71" y2="224" stroke="#333" stroke-width="0.35"/>
<rect x="28.7" y="223.8" width="3" height="1.1" fill="#111"/>
<line x1="30.2" y1="224" x2="30.2" y2="225.2" stroke="#333" stroke-width="0.35"/>
<text x="30.2" y="230.4" font-size="3.6" text-anchor="middle" font-weight="normal" font-style="normal" fill="#1e1e1e" stroke="#1e1e1e" stroke-width="0.1">0</text>
<line x1="45.3" y1="224" x2="45.3" y2="225.2" stroke="#333" stroke-width="0.35"/>
<text x="45.3" y="230.4" font-size="3.6" text-anchor="middle" font-weight="normal" font-style="normal" fill="#1e1e1e" stroke="#1e1e1e" stroke-width="0.1">10<tspan font-size="2.6" dy="-1.3">3</tspan></text>
<line x1="58.3" y1="224" x2="58.3" y2="225.2" stroke="#333" stroke-width="0.35"/>
<text x="58.3" y="230.4" font-size="3.6" text-anchor="middle" font-weight="normal" font-style="normal" fill="#1e1e1e" stroke="#1e1e1e" stroke-width="0.1">10<tspan font-size="2.6" dy="-1.3">4</tspan></text>
<line x1="68.9" y1="224" x2="68.9" y2="225.2" stroke="#333" stroke-width="0.35"/>
<text x="68.9" y="230.4" font-size="3.6" text-anchor="middle" font-weight="normal" font-style="normal" fill="#1e1e1e" stroke="#1e1e1e" stroke-width="0.1">10<tspan font-size="2.6" dy="-1.3">5</tspan></text>
<text x="3.8" y="225.5" font-size="3.4" text-anchor="start" font-weight="normal" font-style="normal" fill="#1e1e1e" stroke="#1e1e1e" stroke-width="0.14" transform="rotate(-90 3.8 225.5)">Max (%)</text>
<line x1="2.6" y1="210.2" x2="2.6" y2="169.5" stroke="#333" stroke-width="0.35"/>
<path d="M1.6,170.7 L2.6,168.1 L3.6,170.7 Z" fill="#333"/>
<text x="13.4" y="235.7" font-size="4.2" text-anchor="start" font-weight="normal" font-style="italic" fill="#1e1e1e" stroke="#1e1e1e" stroke-width="0.08">pErk-AF488</text>
<line x1="37.9" y1="234.1" x2="70.5" y2="234.1" stroke="#333" stroke-width="0.35"/>
<path d="M68.8,233.3 L71,234.1 L68.8,234.9 Z" fill="#333"/>
<path d="M22.00,224.00 C23.42,223.92 28.65,225.23 30.50,223.50 C32.35,221.77 32.25,218.63 33.10,213.60 C33.95,208.57 34.95,199.40 35.60,193.30 C36.25,187.20 36.58,180.37 37.00,177.00 C37.42,173.63 37.72,173.10 38.10,173.10 C38.48,173.10 38.87,174.47 39.30,177.00 C39.73,179.53 40.13,182.63 40.70,188.30 C41.27,193.97 41.95,205.13 42.70,211.00 C43.45,216.87 43.15,221.33 45.20,223.50 C47.25,225.67 53.37,223.92 55.00,224.00" fill="none" stroke="#808080" stroke-width="0.45" stroke-linejoin="round"/>
<path d="M38.00,224.00 C39.08,223.92 43.00,224.40 44.50,223.50 C46.00,222.60 46.17,222.37 47.00,218.60 C47.83,214.83 48.83,205.33 49.50,200.90 C50.17,196.47 50.58,193.90 51.00,192.00 C51.42,190.10 51.63,189.50 52.00,189.50 C52.37,189.50 52.77,190.10 53.20,192.00 C53.63,193.90 53.82,196.47 54.60,200.90 C55.38,205.33 56.85,214.83 57.90,218.60 C58.95,222.37 59.55,222.60 60.90,223.50 C62.25,224.40 65.15,223.92 66.00,224.00" fill="none" stroke="#38b040" stroke-width="0.6" stroke-linejoin="round"/>
<path d="M38.00,224.00 C39.08,223.93 43.02,224.50 44.50,223.60 C45.98,222.70 46.08,222.38 46.90,218.60 C47.72,214.82 48.73,205.47 49.40,200.90 C50.07,196.33 50.48,193.23 50.90,191.20 C51.32,189.17 51.55,188.70 51.90,188.70 C52.25,188.70 52.62,189.17 53.00,191.20 C53.38,193.23 53.50,196.33 54.20,200.90 C54.90,205.47 56.20,214.82 57.20,218.60 C58.20,222.38 58.73,222.70 60.20,223.60 C61.67,224.50 65.03,223.93 66.00,224.00" fill="none" stroke="#c83038" stroke-width="0.5" stroke-linejoin="round"/>
<rect x="56" y="167.2" width="17.3" height="16.6" fill="#fff" stroke="#b8b8b8" stroke-width="0.45"/>
<line x1="57.2" y1="170.65" x2="60.8" y2="170.65" stroke="#555" stroke-width="0.9"/>
<text x="61.9" y="172.05" font-size="4.0" text-anchor="start" font-weight="normal" font-style="normal" fill="#1e1e1e" stroke="#1e1e1e" stroke-width="0.06">Naive</text>
<line x1="57.2" y1="175.7" x2="60.8" y2="175.7" stroke="#8fd08f" stroke-width="0.9"/>
<text x="61.9" y="177.1" font-size="4.0" text-anchor="start" font-weight="normal" font-style="normal" fill="#1e1e1e" stroke="#1e1e1e" stroke-width="0.06">B1-8<tspan font-size="2.6" dy="-1.3">hi</tspan></text>
<line x1="57.2" y1="180.75" x2="60.8" y2="180.75" stroke="#b01828" stroke-width="0.9"/>
<text x="61.9" y="182.15" font-size="4.0" text-anchor="start" font-weight="normal" font-style="normal" fill="#1e1e1e" stroke="#1e1e1e" stroke-width="0.06">B1-8<tspan font-size="2.6" dy="-1.3">lo</tspan></text>
<line x1="95.3" y1="169" x2="95.3" y2="224" stroke="#999" stroke-width="0.45"/>
<line x1="95.3" y1="224" x2="133" y2="224" stroke="#999" stroke-width="0.45"/>
<line x1="93.5" y1="169.5" x2="95.3" y2="169.5" stroke="#777" stroke-width="0.35"/>
<text x="92.3" y="171.1" font-size="3.7" text-anchor="end" font-weight="normal" font-style="normal" fill="#1e1e1e" stroke="#1e1e1e" stroke-width="0.06">50</text>
<line x1="93.5" y1="180.4" x2="95.3" y2="180.4" stroke="#777" stroke-width="0.35"/>
<text x="92.3" y="182.0" font-size="3.7" text-anchor="end" font-weight="normal" font-style="normal" fill="#1e1e1e" stroke="#1e1e1e" stroke-width="0.06">40</text>
<line x1="93.5" y1="191.3" x2="95.3" y2="191.3" stroke="#777" stroke-width="0.35"/>
<text x="92.3" y="192.9" font-size="3.7" text-anchor="end" font-weight="normal" font-style="normal" fill="#1e1e1e" stroke="#1e1e1e" stroke-width="0.06">30</text>
<line x1="93.5" y1="202.2" x2="95.3" y2="202.2" stroke="#777" stroke-width="0.35"/>
<text x="92.3" y="203.8" font-size="3.7" text-anchor="end" font-weight="normal" font-style="normal" fill="#1e1e1e" stroke="#1e1e1e" stroke-width="0.06">20</text>
<line x1="93.5" y1="213.1" x2="95.3" y2="213.1" stroke="#777" stroke-width="0.35"/>
<text x="92.3" y="214.7" font-size="3.7" text-anchor="end" font-weight="normal" font-style="normal" fill="#1e1e1e" stroke="#1e1e1e" stroke-width="0.06">10</text>
<line x1="93.5" y1="224" x2="95.3" y2="224" stroke="#777" stroke-width="0.35"/>
<text x="92.3" y="225.6" font-size="3.7" text-anchor="end" font-weight="normal" font-style="normal" fill="#1e1e1e" stroke="#1e1e1e" stroke-width="0.06">0</text>
<text x="85.1" y="197.3" font-size="4.25" text-anchor="middle" font-weight="normal" font-style="normal" fill="#1e1e1e" stroke="#1e1e1e" stroke-width="0.02" transform="rotate(-90 85.1 197.3)">pErk (gMFI × 10<tspan font-size="2.7" dy="-1.4">3</tspan><tspan dy="1.4">)</tspan></text>
<line x1="104.6" y1="168.5" x2="123.3" y2="168.5" stroke="#aaa" stroke-width="0.8"/>
<text x="113.95" y="166.8" font-size="3.8" text-anchor="middle" font-weight="normal" font-style="normal" fill="#1e1e1e" stroke="#1e1e1e" stroke-width="0.06">NS</text>
<line x1="99.1" y1="188.9" x2="111.4" y2="188.9" stroke="#aaa" stroke-width="0.8"/>
<circle cx="105.1" cy="175.7" r="1.1" fill="#1a9020"/>
<circle cx="103.7" cy="185.3" r="1.1" fill="#1a9020"/>
<circle cx="106.8" cy="184.7" r="1.1" fill="#1a9020"/>
<circle cx="103.4" cy="193.1" r="1.1" fill="#1a9020"/>
<circle cx="106.8" cy="194.3" r="1.1" fill="#1a9020"/>
<circle cx="105.1" cy="199.7" r="1.1" fill="#1a9020"/>
<line x1="116.9" y1="191.4" x2="130" y2="191.4" stroke="#aaa" stroke-width="0.8"/>
<circle cx="123.6" cy="181.6" r="1.1" fill="#b00010"/>
<circle cx="125.3" cy="184.2" r="1.1" fill="#b00010"/>
<circle cx="122" cy="185.3" r="1.1" fill="#b00010"/>
<circle cx="122" cy="197.2" r="1.1" fill="#b00010"/>
<circle cx="125.3" cy="198.9" r="1.1" fill="#b00010"/>
<circle cx="123.6" cy="202.6" r="1.1" fill="#b00010"/>
<rect x="130.7" y="167.8" width="17.1" height="11.8" fill="#fff" stroke="#b8b8b8" stroke-width="0.45"/>
<circle cx="132.9" cy="171.3" r="1.15" fill="#1a9020"/>
<text x="135.6" y="172.8" font-size="4.0" text-anchor="start" font-weight="normal" font-style="normal" fill="#1e1e1e" stroke="#1e1e1e" stroke-width="0.06">B1-8<tspan font-size="2.6" dy="-1.3">hi</tspan></text>
<circle cx="132.9" cy="176.7" r="1.15" fill="#b00010"/>
<text x="135.6" y="178.2" font-size="4.0" text-anchor="start" font-weight="normal" font-style="normal" fill="#1e1e1e" stroke="#1e1e1e" stroke-width="0.06">B1-8<tspan font-size="2.6" dy="-1.3">lo</tspan></text>
<text x="155.9" y="163.1" font-size="4.5" text-anchor="start" font-weight="bold" font-style="normal" fill="#111">f</text>
<line x1="170.2" y1="168.0" x2="170.2" y2="224.5" stroke="#333" stroke-width="0.35"/>
<line x1="167.8" y1="224.5" x2="170.2" y2="224.5" stroke="#333" stroke-width="0.4"/>
<text x="167.0" y="225.8" font-size="3.6" text-anchor="end" font-weight="normal" font-style="normal" fill="#1e1e1e" stroke="#1e1e1e" stroke-width="0.12">0</text>
<line x1="167.8" y1="213.7" x2="170.2" y2="213.7" stroke="#333" stroke-width="0.4"/>
<text x="167.0" y="215.0" font-size="3.6" text-anchor="end" font-weight="normal" font-style="normal" fill="#1e1e1e" stroke="#1e1e1e" stroke-width="0.12">20</text>
<line x1="167.8" y1="202.9" x2="170.2" y2="202.9" stroke="#333" stroke-width="0.4"/>
<text x="167.0" y="204.2" font-size="3.6" text-anchor="end" font-weight="normal" font-style="normal" fill="#1e1e1e" stroke="#1e1e1e" stroke-width="0.12">40</text>
<line x1="167.8" y1="192.1" x2="170.2" y2="192.1" stroke="#333" stroke-width="0.4"/>
<text x="167.0" y="193.4" font-size="3.6" text-anchor="end" font-weight="normal" font-style="normal" fill="#1e1e1e" stroke="#1e1e1e" stroke-width="0.12">60</text>
<line x1="167.8" y1="181.3" x2="170.2" y2="181.3" stroke="#333" stroke-width="0.4"/>
<text x="167.0" y="182.6" font-size="3.6" text-anchor="end" font-weight="normal" font-style="normal" fill="#1e1e1e" stroke="#1e1e1e" stroke-width="0.12">80</text>
<line x1="167.8" y1="170.5" x2="170.2" y2="170.5" stroke="#333" stroke-width="0.4"/>
<text x="167.0" y="171.8" font-size="3.6" text-anchor="end" font-weight="normal" font-style="normal" fill="#1e1e1e" stroke="#1e1e1e" stroke-width="0.12">100</text>
<line x1="169.4" y1="224.5" x2="170.2" y2="224.5" stroke="#333" stroke-width="0.25"/>
<line x1="169.4" y1="222.34" x2="170.2" y2="222.34" stroke="#333" stroke-width="0.25"/>
<line x1="169.4" y1="220.18" x2="170.2" y2="220.18" stroke="#333" stroke-width="0.25"/>
<line x1="169.4" y1="218.02" x2="170.2" y2="218.02" stroke="#333" stroke-width="0.25"/>
<line x1="169.4" y1="215.86" x2="170.2" y2="215.86" stroke="#333" stroke-width="0.25"/>
<line x1="169.4" y1="213.7" x2="170.2" y2="213.7" stroke="#333" stroke-width="0.25"/>
<line x1="169.4" y1="211.54" x2="170.2" y2="211.54" stroke="#333" stroke-width="0.25"/>
<line x1="169.4" y1="209.38" x2="170.2" y2="209.38" stroke="#333" stroke-width="0.25"/>
<line x1="169.4" y1="207.22" x2="170.2" y2="207.22" stroke="#333" stroke-width="0.25"/>
<line x1="169.4" y1="205.06" x2="170.2" y2="205.06" stroke="#333" stroke-width="0.25"/>
<line x1="169.4" y1="202.9" x2="170.2" y2="202.9" stroke="#333" stroke-width="0.25"/>
<line x1="169.4" y1="200.74" x2="170.2" y2="200.74" stroke="#333" stroke-width="0.25"/>
<line x1="169.4" y1="198.58" x2="170.2" y2="198.58" stroke="#333" stroke-width="0.25"/>
<line x1="169.4" y1="196.42" x2="170.2" y2="196.42" stroke="#333" stroke-width="0.25"/>
<line x1="169.4" y1="194.26" x2="170.2" y2="194.26" stroke="#333" stroke-width="0.25"/>
<line x1="169.4" y1="192.1" x2="170.2" y2="192.1" stroke="#333" stroke-width="0.25"/>
<line x1="169.4" y1="189.94" x2="170.2" y2="189.94" stroke="#333" stroke-width="0.25"/>
<line x1="169.4" y1="187.78" x2="170.2" y2="187.78" stroke="#333" stroke-width="0.25"/>
<line x1="169.4" y1="185.62" x2="170.2" y2="185.62" stroke="#333" stroke-width="0.25"/>
<line x1="169.4" y1="183.46" x2="170.2" y2="183.46" stroke="#333" stroke-width="0.25"/>
<line x1="169.4" y1="181.3" x2="170.2" y2="181.3" stroke="#333" stroke-width="0.25"/>
<line x1="169.4" y1="179.14" x2="170.2" y2="179.14" stroke="#333" stroke-width="0.25"/>
<line x1="169.4" y1="176.98" x2="170.2" y2="176.98" stroke="#333" stroke-width="0.25"/>
<line x1="169.4" y1="174.82" x2="170.2" y2="174.82" stroke="#333" stroke-width="0.25"/>
<line x1="169.4" y1="172.66" x2="170.2" y2="172.66" stroke="#333" stroke-width="0.25"/>
<line x1="169.4" y1="170.5" x2="170.2" y2="170.5" stroke="#333" stroke-width="0.25"/>
<line x1="170.2" y1="224.5" x2="227.1" y2="224.5" stroke="#333" stroke-width="0.35"/>
<rect x="183.1" y="224.3" width="3" height="1.1" fill="#111"/>
<line x1="184.6" y1="224.5" x2="184.6" y2="225.7" stroke="#333" stroke-width="0.35"/>
<text x="184.6" y="230.9" font-size="3.6" text-anchor="middle" font-weight="normal" font-style="normal" fill="#1e1e1e" stroke="#1e1e1e" stroke-width="0.1">0</text>
<line x1="200.6" y1="224.5" x2="200.6" y2="225.7" stroke="#333" stroke-width="0.35"/>
<text x="200.6" y="230.9" font-size="3.6" text-anchor="middle" font-weight="normal" font-style="normal" fill="#1e1e1e" stroke="#1e1e1e" stroke-width="0.1">10<tspan font-size="2.6" dy="-1.3">3</tspan></text>
<line x1="212.2" y1="224.5" x2="212.2" y2="225.7" stroke="#333" stroke-width="0.35"/>
<text x="212.2" y="230.9" font-size="3.6" text-anchor="middle" font-weight="normal" font-style="normal" fill="#1e1e1e" stroke="#1e1e1e" stroke-width="0.1">10<tspan font-size="2.6" dy="-1.3">4</tspan></text>
<line x1="224.7" y1="224.5" x2="224.7" y2="225.7" stroke="#333" stroke-width="0.35"/>
<text x="224.7" y="230.9" font-size="3.6" text-anchor="middle" font-weight="normal" font-style="normal" fill="#1e1e1e" stroke="#1e1e1e" stroke-width="0.1">10<tspan font-size="2.6" dy="-1.3">5</tspan></text>
<text x="158.8" y="226.0" font-size="3.4" text-anchor="start" font-weight="normal" font-style="normal" fill="#1e1e1e" stroke="#1e1e1e" stroke-width="0.14" transform="rotate(-90 158.8 226.0)">Max (%)</text>
<line x1="157.6" y1="210.7" x2="157.6" y2="169.5" stroke="#333" stroke-width="0.35"/>
<path d="M156.6,170.7 L157.6,168.1 L158.6,170.7 Z" fill="#333"/>
<text x="168.4" y="236.2" font-size="4.2" text-anchor="start" font-weight="normal" font-style="italic" fill="#1e1e1e" stroke="#1e1e1e" stroke-width="0.08">pSyk-AF488</text>
<line x1="192.9" y1="234.6" x2="226.6" y2="234.6" stroke="#333" stroke-width="0.35"/>
<path d="M224.9,233.8 L227.1,234.6 L224.9,235.4 Z" fill="#333"/>
<path d="M184.00,224.50 C184.82,224.33 187.67,225.65 188.90,223.50 C190.13,221.35 190.67,216.45 191.40,211.60 C192.13,206.75 192.62,199.58 193.30,194.40 C193.98,189.22 194.88,183.43 195.50,180.50 C196.12,177.57 196.50,176.97 197.00,176.80 C197.50,176.63 198.10,178.18 198.50,179.50 C198.90,180.82 198.95,180.58 199.40,184.70 C199.85,188.82 200.50,198.50 201.20,204.20 C201.90,209.90 202.87,215.68 203.60,218.90 C204.33,222.12 204.53,222.57 205.60,223.50 C206.67,224.43 209.27,224.33 210.00,224.50" fill="none" stroke="#808080" stroke-width="0.45" stroke-linejoin="round"/>
<path d="M196.00,224.50 C196.78,224.33 199.52,224.43 200.70,223.50 C201.88,222.57 202.28,222.52 203.10,218.90 C203.92,215.28 204.95,205.78 205.60,201.80 C206.25,197.82 206.60,196.43 207.00,195.00 C207.40,193.57 207.63,193.12 208.00,193.20 C208.37,193.28 208.80,194.07 209.20,195.50 C209.60,196.93 209.70,197.90 210.40,201.80 C211.10,205.70 212.37,215.28 213.40,218.90 C214.43,222.52 215.50,222.57 216.60,223.50 C217.70,224.43 219.43,224.33 220.00,224.50" fill="none" stroke="#38b040" stroke-width="0.6" stroke-linejoin="round"/>
<path d="M196.00,224.50 C196.77,224.35 199.43,224.53 200.60,223.60 C201.77,222.67 202.18,222.53 203.00,218.90 C203.82,215.27 204.85,205.82 205.50,201.80 C206.15,197.78 206.50,196.33 206.90,194.80 C207.30,193.27 207.55,192.57 207.90,192.60 C208.25,192.63 208.65,193.47 209.00,195.00 C209.35,196.53 209.37,197.82 210.00,201.80 C210.63,205.78 211.83,215.27 212.80,218.90 C213.77,222.53 214.60,222.67 215.80,223.60 C217.00,224.53 219.30,224.35 220.00,224.50" fill="none" stroke="#c83038" stroke-width="0.5" stroke-linejoin="round"/>
<rect x="218.2" y="168.0" width="17.4" height="15.7" fill="#fff" stroke="#b8b8b8" stroke-width="0.45"/>
<line x1="219.4" y1="171.0" x2="223.0" y2="171.0" stroke="#555" stroke-width="0.9"/>
<text x="224.1" y="172.4" font-size="4.0" text-anchor="start" font-weight="normal" font-style="normal" fill="#1e1e1e" stroke="#1e1e1e" stroke-width="0.06">Naive</text>
<line x1="219.4" y1="176.05" x2="223.0" y2="176.05" stroke="#8fd08f" stroke-width="0.9"/>
<text x="224.1" y="177.45" font-size="4.0" text-anchor="start" font-weight="normal" font-style="normal" fill="#1e1e1e" stroke="#1e1e1e" stroke-width="0.06">B1-8<tspan font-size="2.6" dy="-1.3">hi</tspan></text>
<line x1="219.4" y1="181.1" x2="223.0" y2="181.1" stroke="#b01828" stroke-width="0.9"/>
<text x="224.1" y="182.5" font-size="4.0" text-anchor="start" font-weight="normal" font-style="normal" fill="#1e1e1e" stroke="#1e1e1e" stroke-width="0.06">B1-8<tspan font-size="2.6" dy="-1.3">lo</tspan></text>
<line x1="259.6" y1="169" x2="259.6" y2="224.6" stroke="#999" stroke-width="0.45"/>
<line x1="259.6" y1="224.6" x2="295.8" y2="224.6" stroke="#999" stroke-width="0.45"/>
<line x1="257.8" y1="169.5" x2="259.6" y2="169.5" stroke="#777" stroke-width="0.35"/>
<text x="256.6" y="171.1" font-size="3.7" text-anchor="end" font-weight="normal" font-style="normal" fill="#1e1e1e" stroke="#1e1e1e" stroke-width="0.06">50</text>
<line x1="257.8" y1="180.5" x2="259.6" y2="180.5" stroke="#777" stroke-width="0.35"/>
<text x="256.6" y="182.1" font-size="3.7" text-anchor="end" font-weight="normal" font-style="normal" fill="#1e1e1e" stroke="#1e1e1e" stroke-width="0.06">40</text>
<line x1="257.8" y1="191.5" x2="259.6" y2="191.5" stroke="#777" stroke-width="0.35"/>
<text x="256.6" y="193.1" font-size="3.7" text-anchor="end" font-weight="normal" font-style="normal" fill="#1e1e1e" stroke="#1e1e1e" stroke-width="0.06">30</text>
<line x1="257.8" y1="202.6" x2="259.6" y2="202.6" stroke="#777" stroke-width="0.35"/>
<text x="256.6" y="204.2" font-size="3.7" text-anchor="end" font-weight="normal" font-style="normal" fill="#1e1e1e" stroke="#1e1e1e" stroke-width="0.06">20</text>
<line x1="257.8" y1="213.6" x2="259.6" y2="213.6" stroke="#777" stroke-width="0.35"/>
<text x="256.6" y="215.2" font-size="3.7" text-anchor="end" font-weight="normal" font-style="normal" fill="#1e1e1e" stroke="#1e1e1e" stroke-width="0.06">10</text>
<line x1="257.8" y1="224.6" x2="259.6" y2="224.6" stroke="#777" stroke-width="0.35"/>
<text x="256.6" y="226.2" font-size="3.7" text-anchor="end" font-weight="normal" font-style="normal" fill="#1e1e1e" stroke="#1e1e1e" stroke-width="0.06">0</text>
<text x="249.4" y="197.6" font-size="4.25" text-anchor="middle" font-weight="normal" font-style="normal" fill="#1e1e1e" stroke="#1e1e1e" stroke-width="0.02" transform="rotate(-90 249.4 197.6)">pSyk (gMFI × 10<tspan font-size="2.7" dy="-1.4">3</tspan><tspan dy="1.4">)</tspan></text>
<line x1="268.1" y1="165.5" x2="286.7" y2="165.5" stroke="#aaa" stroke-width="0.8"/>
<text x="277.4" y="163.8" font-size="3.8" text-anchor="middle" font-weight="normal" font-style="normal" fill="#1e1e1e" stroke="#1e1e1e" stroke-width="0.06">NS</text>
<line x1="262" y1="184.6" x2="274.9" y2="184.6" stroke="#aaa" stroke-width="0.8"/>
<circle cx="268.1" cy="170.7" r="1.1" fill="#1a9020"/>
<circle cx="268.1" cy="177.2" r="1.1" fill="#1a9020"/>
<circle cx="268.1" cy="182.2" r="1.1" fill="#1a9020"/>
<circle cx="266.5" cy="189.6" r="1.1" fill="#1a9020"/>
<circle cx="270.1" cy="191.8" r="1.1" fill="#1a9020"/>
<circle cx="268.3" cy="197.1" r="1.1" fill="#1a9020"/>
<line x1="280.3" y1="187.4" x2="292.9" y2="187.4" stroke="#aaa" stroke-width="0.8"/>
<circle cx="287" cy="175.6" r="1.1" fill="#b00010"/>
<circle cx="288.7" cy="179.5" r="1.1" fill="#b00010"/>
<circle cx="285.3" cy="180" r="1.1" fill="#b00010"/>
<circle cx="285.3" cy="194.2" r="1.1" fill="#b00010"/>
<circle cx="288.8" cy="196" r="1.1" fill="#b00010"/>
<circle cx="286.7" cy="201.3" r="1.1" fill="#b00010"/>
<rect x="295.3" y="167.6" width="16.4" height="10.1" fill="#fff" stroke="#b8b8b8" stroke-width="0.45"/>
<circle cx="297.5" cy="170.25" r="1.15" fill="#1a9020"/>
<text x="300.2" y="171.75" font-size="4.0" text-anchor="start" font-weight="normal" font-style="normal" fill="#1e1e1e" stroke="#1e1e1e" stroke-width="0.06">B1-8<tspan font-size="2.6" dy="-1.3">hi</tspan></text>
<circle cx="297.5" cy="175.65" r="1.15" fill="#b00010"/>
<text x="300.2" y="177.15" font-size="4.0" text-anchor="start" font-weight="normal" font-style="normal" fill="#1e1e1e" stroke="#1e1e1e" stroke-width="0.06">B1-8<tspan font-size="2.6" dy="-1.3">lo</tspan></text>
</svg></body></html>
